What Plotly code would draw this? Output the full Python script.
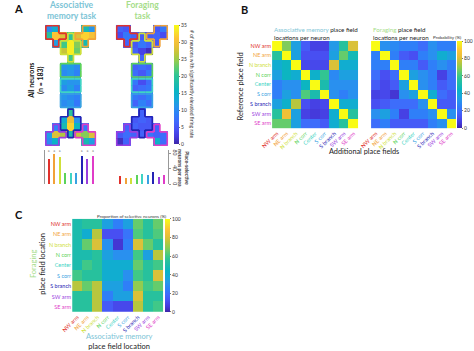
import plotly.graph_objects as go

W, H = 474, 351
def px(x): return x / W
def py(y): return 1 - y / H

FONT = "Lato"
DARK = "#222222"

# ---------------- shared categories ----------------
regions = ["NW arm", "NE arm", "N branch", "N corr", "Center", "S corr", "S branch", "SW arm", "SE arm"]
region_colors = ["#e0312c", "#f2a238", "#cfe03a", "#5cd35a", "#3fd4c4", "#38a2e2", "#2323b4", "#9a3ee0", "#e03cc8"]
ASSOC_COLOR = "#7cc4d6"
FORAG_COLOR = "#a6dd8a"

parula = [
    [0.000, "rgb(62,38,168)"], [0.063, "rgb(69,59,222)"], [0.127, "rgb(72,82,244)"],
    [0.190, "rgb(64,106,252)"], [0.254, "rgb(46,128,248)"], [0.317, "rgb(39,150,235)"],
    [0.381, "rgb(20,170,214)"], [0.444, "rgb(10,180,195)"], [0.508, "rgb(30,188,170)"],
    [0.571, "rgb(44,196,151)"], [0.635, "rgb(88,204,117)"], [0.698, "rgb(144,204,81)"],
    [0.762, "rgb(193,197,58)"], [0.825, "rgb(234,191,56)"], [0.889, "rgb(253,196,54)"],
    [0.952, "rgb(246,231,41)"], [1.000, "rgb(249,251,20)"],
]

# ---------------- Panel A data ----------------
N = None
# region index of each maze cell (-1 = outside the maze), 16 rows x 7 columns
maze_layout = [
    [0, 0, -1, -1, -1, 1, 1],
    [0, 0, 0, 2, 1, 1, 1],
    [-1, 0, 2, 2, 2, 1, -1],
    [-1, -1, 2, 2, 2, -1, -1],
    [-1, -1, -1, 2, -1, -1, -1],
    [-1, -1, 3, 3, 3, -1, -1],
    [-1, -1, 3, 3, 3, -1, -1],
    [-1, -1, 4, 4, 4, -1, -1],
    [-1, -1, 4, 4, 4, -1, -1],
    [-1, -1, 5, 5, 5, -1, -1],
    [-1, -1, 5, 5, 5, -1, -1],
    [-1, -1, -1, 6, -1, -1, -1],
    [-1, -1, 6, 6, 6, -1, -1],
    [-1, 7, 6, 6, 6, 8, -1],
    [7, 7, 7, 6, 8, 8, 8],
    [7, 7, -1, -1, -1, 8, 8],
]
maze_assoc = [
    [10, 14, N, N, N, 17, 11],
    [19, 31, 28, 20, 28, 32, 30],
    [N, 12, 21, 34, 24, 17, N],
    [N, N, 27, 34, 23, N, N],
    [N, N, N, 21, N, N, N],
    [N, N, 11, 12, 10, N, N],
    [N, N, 10, 11, 9, N, N],
    [N, N, 12, 11, 11, N, N],
    [N, N, 10, 12, 9, N, N],
    [N, N, 11, 10, 9, N, N],
    [N, N, 10, 11, 8, N, N],
    [N, N, N, 20, N, N, N],
    [N, N, 14, 29, 11, N, N],
    [N, 9, 17, 32, 16, 8, N],
    [12, 28, 26, 18, 27, 24, 28],
    [10, 15, N, N, N, 17, 12],
]
maze_forag = [
    [6, 5, N, N, N, 5, 8],
    [4, 8, 6, 5, 5, 6, 4],
    [N, 6, 5, 8, 6, 5, N],
    [N, N, 6, 3, 1, N, N],
    [N, N, N, 6, N, N, N],
    [N, N, 6, 7, 6, N, N],
    [N, N, 7, 5, 8, N, N],
    [N, N, 8, 4, 7, N, N],
    [N, N, 6, 7, 8, N, N],
    [N, N, 8, 7, 9, N, N],
    [N, N, 6, 9, 7, N, N],
    [N, N, N, 6, N, N, N],
    [N, N, 5, 6, 5, N, N],
    [N, 6, 6, 5, 5, 6, N],
    [5, 7, 6, 6, 8, 6, 7],
    [1, 6, N, N, N, 15, 7],
]
bar_assoc = [66, 77, 70, 30, 28, 28, 73, 65, 73]
bar_forag = [22, 16, 17, 23, 26, 25, 32, 18, 23]
bar_signif = [1, 1, 1, 0, 0, 0, 1, 1, 1]
bar_ticks = [0, 40, 80]
maze_ticks = [0, 5, 10, 15, 20, 25, 30, 35]

# ---------------- Panel B data ----------------
prob_assoc = [
    [100, 68, 35, 15, 8, 8, 33, 55, 80],
    [55, 100, 35, 12, 12, 12, 35, 65, 48],
    [40, 45, 100, 10, 10, 10, 80, 40, 40],
    [35, 45, 40, 100, 42, 58, 28, 35, 35],
    [25, 30, 30, 45, 100, 50, 30, 30, 30],
    [25, 35, 30, 62, 50, 100, 30, 25, 30],
    [35, 42, 75, 12, 8, 10, 100, 40, 40],
    [55, 85, 35, 8, 6, 8, 40, 100, 55],
    [65, 65, 35, 20, 20, 15, 40, 55, 100],
]
prob_forag = [
    [100, 30, 28, 25, 25, 20, 30, 25, 25],
    [25, 100, 25, 15, 12, 25, 30, 40, 35],
    [25, 25, 100, 25, 25, 15, 25, 30, 25],
    [20, 12, 20, 100, 35, 30, 25, 8, 20],
    [15, 10, 15, 35, 100, 30, 25, 15, 20],
    [8, 10, 5, 30, 35, 100, 40, 20, 15],
    [12, 15, 20, 20, 20, 30, 100, 15, 15],
    [30, 35, 25, 8, 25, 25, 30, 100, 30],
    [20, 25, 15, 15, 15, 15, 25, 30, 100],
]
pct_ticks = [0, 20, 40, 60, 80, 100]

# ---------------- Panel C data ----------------
prop_selective = [
    [50, 55, 55, 35, 25, 35, 65, 55, 65],
    [50, 40, 75, 12, 12, 22, 62, 55, 62],
    [50, 65, 80, 30, 5, 25, 80, 65, 55],
    [50, 50, 55, 35, 30, 30, 60, 35, 75],
    [50, 60, 55, 40, 40, 40, 65, 55, 60],
    [60, 55, 55, 40, 40, 30, 60, 55, 80],
    [75, 65, 75, 35, 35, 25, 70, 60, 65],
    [55, 55, 75, 25, 35, 35, 80, 55, 55],
    [55, 55, 75, 15, 10, 10, 75, 55, 60],
]

# ---------------- helpers ----------------
def colored(names, colors):
    return [f'<span style="color:{c}">{n}</span>' for n, c in zip(names, colors)]

def region_outline(layout, k, d=0.12):
    R, C = len(layout), len(layout[0])
    def inside(r, c):
        return 0 <= r < R and 0 <= c < C and layout[r][c] == k
    xs, ys = [], []
    for r in range(R):
        for c in range(C):
            if layout[r][c] != k:
                continue
            for nx, ny in [(0, -1), (0, 1), (-1, 0), (1, 0)]:
                if inside(r + ny, c + nx):
                    continue
                tx, ty = -ny, nx
                mx, my = c + 0.5 * nx - d * nx, r + 0.5 * ny - d * ny
                pts = []
                for s in (-1, 1):
                    ac, ar = c + s * tx, r + s * ty
                    if not inside(ar, ac):
                        off = 0.5 - d
                    elif inside(ar + ny, ac + nx):
                        off = 0.5 + d
                    else:
                        off = 0.5
                    pts.append((mx + s * off * tx, my + s * off * ty))
                xs += [pts[0][0], pts[1][0], None]
                ys += [pts[0][1], pts[1][1], None]
    return xs, ys

fig = go.Figure()

# ---------------- Panel A: mazes ----------------
cb_common = dict(thickness=4.5, thicknessmode="pixels", xpad=0, ypad=0, outlinewidth=0,
                 xanchor="left", yanchor="middle", ticks="outside", ticklen=1.5,
                 tickcolor="#777", tickwidth=0.5,
                 tickfont=dict(size=5, color="#333", family=FONT))
fig.add_trace(go.Heatmap(
    z=maze_assoc, x=list(range(7)), y=list(range(16)), colorscale=parula, zmin=0, zmax=35,
    xaxis="x", yaxis="y", hoverinfo="skip", showscale=True,
    colorbar=dict(cb_common, x=px(167.5), y=py(84), len=120 / H, tickvals=maze_ticks)))
fig.add_trace(go.Heatmap(
    z=maze_forag, x=list(range(7)), y=list(range(16)), colorscale=parula, zmin=0, zmax=35,
    xaxis="x2", yaxis="y2", hoverinfo="skip", showscale=False))
for xa, ya in [("x", "y"), ("x2", "y2")]:
    for k, col in enumerate(region_colors):
        xs, ys = region_outline(maze_layout, k)
        fig.add_trace(go.Scatter(x=xs, y=ys, mode="lines", line=dict(color=col, width=1.7),
                                 xaxis=xa, yaxis=ya, hoverinfo="skip"))

# ---------------- Panel A: bars ----------------
gap = 13
fig.add_trace(go.Bar(x=list(range(9)), y=bar_assoc, marker=dict(color=region_colors, line_width=0),
                     width=0.3, xaxis="x3", yaxis="y3", hoverinfo="skip"))
fig.add_trace(go.Bar(x=[gap + i for i in range(9)], y=bar_forag,
                     marker=dict(color=region_colors, line_width=0),
                     width=0.3, xaxis="x3", yaxis="y3", hoverinfo="skip"))
star_x = [i for i, s in enumerate(bar_signif) if s]
fig.add_trace(go.Scatter(x=star_x, y=[82] * len(star_x), mode="text", text=["*"] * len(star_x),
                         textfont=dict(size=6, color="#444", family=FONT),
                         xaxis="x3", yaxis="y3", hoverinfo="skip"))

# ---------------- Panel B ----------------
fig.add_trace(go.Heatmap(z=prob_assoc, x=list(range(9)), y=list(range(9)), colorscale=parula,
                         zmin=0, zmax=100, xaxis="x4", yaxis="y4", hoverinfo="skip", showscale=False))
fig.add_trace(go.Heatmap(z=prob_forag, x=list(range(9)), y=list(range(9)), colorscale=parula,
                         zmin=0, zmax=100, xaxis="x5", yaxis="y5", hoverinfo="skip", showscale=True,
                         colorbar=dict(cb_common, x=px(460), y=py(84), len=88 / H, tickvals=pct_ticks)))

# ---------------- Panel C ----------------
fig.add_trace(go.Heatmap(z=prop_selective, x=list(range(9)), y=list(range(9)), colorscale=parula,
                         zmin=0, zmax=100, xaxis="x6", yaxis="y6", hoverinfo="skip", showscale=True,
                         colorbar=dict(cb_common, x=px(158.3), y=py(266), len=94 / H, tickvals=pct_ticks)))

hidden = dict(visible=False, showgrid=False, zeroline=False, fixedrange=True)
tick_lab = colored(regions, region_colors)
cat_x = dict(range=[-0.5, 8.5], tickvals=list(range(9)), ticktext=tick_lab, tickangle=-45,
             ticks="", showgrid=False, zeroline=False, showline=False,
             tickfont=dict(size=5.5, family=FONT))
cat_y = dict(range=[8.5, -0.5], tickvals=list(range(9)), ticktext=tick_lab,
             ticks="", showgrid=False, zeroline=False, showline=False,
             tickfont=dict(size=5.5, family=FONT))

fig.update_layout(
    width=W, height=H, margin=dict(l=0, r=0, t=0, b=0),
    paper_bgcolor="white", plot_bgcolor="white", showlegend=False,
    font=dict(family=FONT, color=DARK),
    bargap=0,
    xaxis=dict(hidden, domain=[px(35), px(88)], range=[-0.5, 6.5], anchor="y"),
    yaxis=dict(hidden, domain=[py(146), py(24)], range=[15.5, -0.5], anchor="x"),
    xaxis2=dict(hidden, domain=[px(108), px(162)], range=[-0.5, 6.5], anchor="y2"),
    yaxis2=dict(hidden, domain=[py(146), py(24)], range=[15.5, -0.5], anchor="x2"),
    xaxis3=dict(hidden, domain=[px(35), px(162)], range=[-0.7, 21.65], anchor="y3"),
    yaxis3=dict(domain=[py(184.5), py(150)], range=[0, 88], anchor="x3", side="right",
                showline=True, mirror=True, linecolor="#999", linewidth=0.8,
                ticks="outside", ticklen=2, tickwidth=0.6, tickcolor="#999",
                tickvals=bar_ticks, tickangle=90, showgrid=False, zeroline=False,
                tickfont=dict(size=5, color="#444", family=FONT)),
    xaxis4=dict(cat_x, domain=[px(269), px(358)], anchor="y4"),
    yaxis4=dict(cat_y, domain=[py(128), py(40)], anchor="x4"),
    xaxis5=dict(cat_x, domain=[px(371), px(458.5)], anchor="y5"),
    yaxis5=dict(cat_y, domain=[py(128), py(40)], anchor="x5", showticklabels=False),
    xaxis6=dict(cat_x, domain=[px(63), px(157)], anchor="y6"),
    yaxis6=dict(cat_y, domain=[py(313), py(219)], anchor="x6"),
)

def ann(x, y, text, size, color=DARK, angle=0, xanchor="center", yanchor="middle", align="center"):
    fig.add_annotation(x=px(x), y=py(y), xref="paper", yref="paper", text=text, showarrow=False,
                       textangle=angle, xanchor=xanchor, yanchor=yanchor, align=align,
                       font=dict(size=size, color=color, family=FONT))

# panel letters
ann(1, 8, "<b>A</b>", 11, "#111", xanchor="left")
ann(235, 9, "<b>B</b>", 11, "#111", xanchor="left")
ann(2, 215, "<b>C</b>", 11, "#111", xanchor="left")

# panel A texts
ann(62, 10, "<b>Associative<br>memory task</b>", 8.5, ASSOC_COLOR)
ann(136, 10, "<b>Foraging<br>task</b>", 8.5, FORAG_COLOR)
ann(25, 80, "<b>All neurons<br>(n = 183)</b>", 7, "#111", angle=-90)
ann(187, 84, "# of neurons with significantly elevated firing rate", 5, "#333", angle=90)
ann(178, 168, "<b>Place-selective<br>neurons per area</b>", 5, "#333", angle=90)

# panel B texts
ann(269, 33, f'<span style="color:{ASSOC_COLOR}">Associative memory</span> place field<br>locations per neuron',
    6.2, DARK, xanchor="left", align="left")
ann(371, 33, f'<span style="color:{FORAG_COLOR}">Foraging</span> place field<br>locations per neuron',
    6.2, DARK, xanchor="left", align="left")
ann(466, 37, "Probability (%)", 4.5, "#333", xanchor="right")
ann(364, 151, "Additional place fields", 7.3, DARK)
ann(236, 86, "Reference place field", 7.5, DARK, angle=-90)

# panel C texts
ann(162, 216.5, "Proportion of selective neurons (%)", 4.5, "#333", xanchor="right")
ann(28, 264, f'<span style="color:{FORAG_COLOR}">Foraging</span><br>place field location', 7.5, DARK, angle=-90)
ann(111, 342, f'<span style="color:{ASSOC_COLOR}">Associative memory</span><br>place field location', 7.5, DARK)

fig.write_html("out.html")
